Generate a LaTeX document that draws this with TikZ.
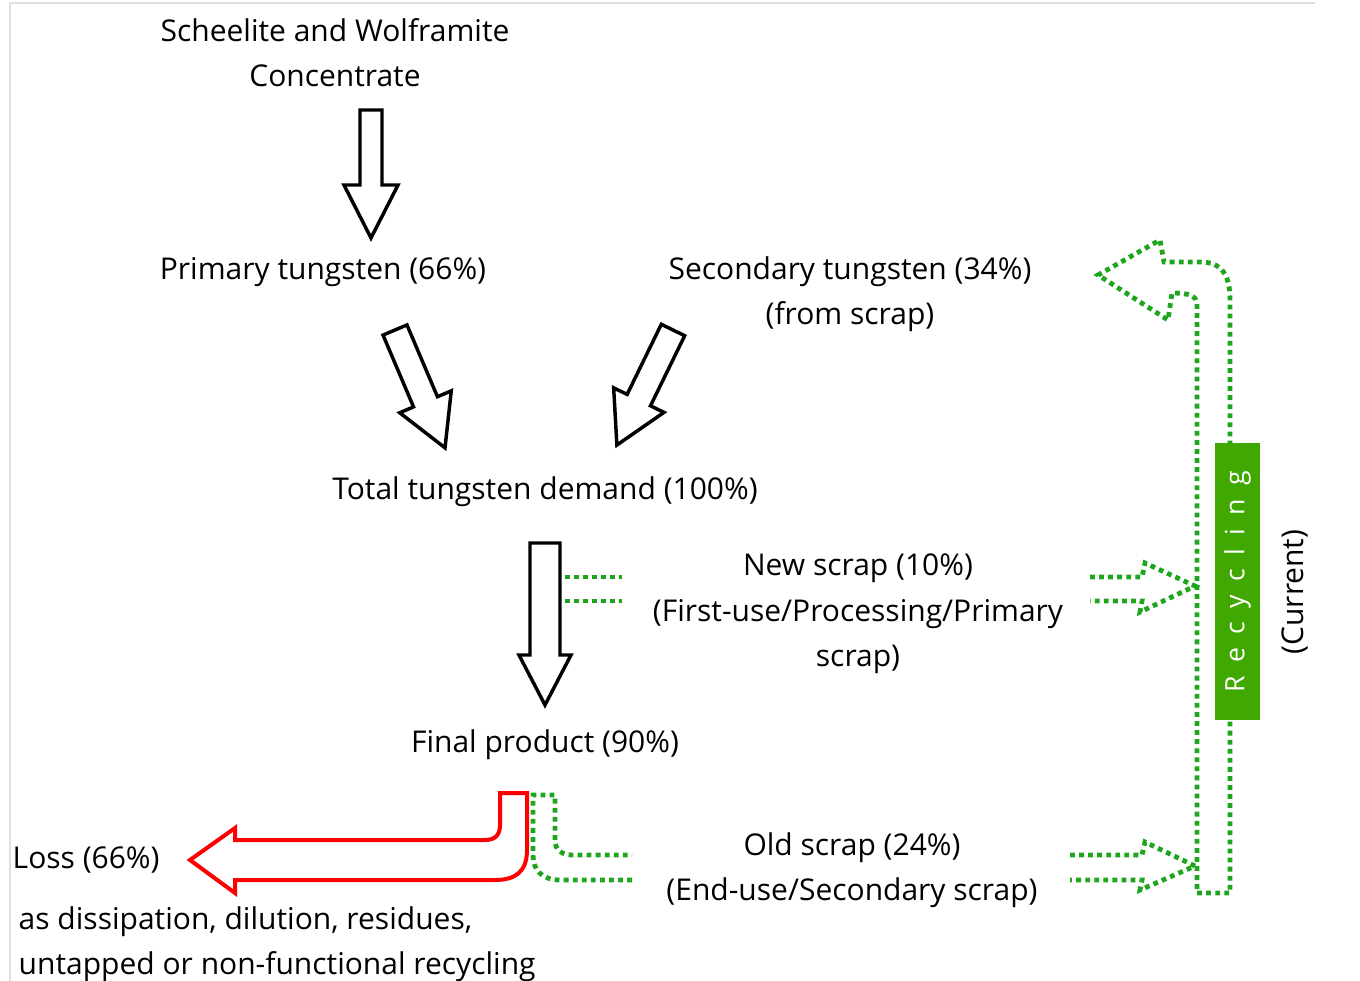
\documentclass[tikz,border=0pt]{standalone}
\usepackage{fontspec}
\setmainfont{Open Sans}
\definecolor{dotgreen}{RGB}{30,165,30}
\definecolor{boxgreen}{RGB}{64,168,0}
\newcommand\blockarrow[8]{% x, y, angle, length, shaft, head, headlen, style
  \begin{scope}[shift={(#1,#2)}, rotate=#3]
    \draw[#8] (0,-#5) -- (#4-#7,-#5) -- (#4-#7,-#6) -- (#4,0) -- (#4-#7,#6) -- (#4-#7,#5) -- (0,#5) -- cycle;
  \end{scope}}
\begin{document}
\begin{tikzpicture}[x=0.75pt, y=-0.75pt,
  txt/.style={align=center, font=\fontsize{22.5}{34}\selectfont},
  blk/.style={line width=2.6pt, black, line join=miter},
  dots/.style={dotgreen, line width=3.6pt, dash pattern=on 3.6pt off 3.2pt}]
\useasboundingbox (0,0) rectangle (1360,981);
\draw[gray!25, line width=0.8pt] (10,981) -- (10,3) -- (1315,3);
% texts
\node[txt] (conc) at (335,53) {Scheelite and Wolframite\\Concentrate};
\node[txt] (prim) at (323,272) {Primary tungsten (66\%)};
\node[txt] (sec) at (850,294) {Secondary tungsten (34\%)\\(from scrap)};
\node[txt] (tot) at (545,492) {Total tungsten demand (100\%)};
\node[txt] (new) at (858,614) {New scrap (10\%)\\(First-use/Processing/Primary\\scrap)};
\node[txt] (fin) at (545,745) {Final product (90\%)};
\node[txt, anchor=west] (loss) at (8,860) {Loss (66\%)};
\node[txt, anchor=north west, align=left] (lossx) at (14,902) {as dissipation, dilution, residues,\\untapped or non-functional recycling};
\node[txt] (old) at (852,870) {Old scrap (24\%)\\(End-use/Secondary scrap)};
% black block arrows
\blockarrow{371}{110}{-90}{128}{11}{27}{53}{blk}
\blockarrow{395}{330}{-67}{128}{13}{28}{50}{blk}
\blockarrow{673}{330}{-116}{128}{13}{28}{50}{blk}
\blockarrow{545}{543}{-90}{162}{15}{26}{50}{blk}
% loss arrow
\draw[red, line width=3pt, line join=miter]
  (527,793) -- (527,850) .. controls (527,872) and (515,880) .. (495,880)
  -- (235,880) -- (235,893) -- (190,860) -- (235,828) -- (235,840) -- (485,840)
  .. controls (495,840) and (500,835) .. (500,825) -- (500,793) -- cycle;
% new scrap
\draw[dots] (565,577) -- (622,577) (565,601) -- (622,601);
\draw[dots] (1090,577) -- (1142,577) -- (1145,563) -- (1195,586) -- (1140,612) -- (1142,601) -- (1090,601);
% old scrap
\draw[dots] (632,880) -- (560,880) .. controls (542,880) and (533,870) .. (533,855) -- (533,795) -- (555,795) -- (555,840) .. controls (555,850) and (562,855) .. (572,855) -- (632,855);
\draw[dots] (1070,855) -- (1142,855) -- (1145,842) -- (1195,866) -- (1140,890) -- (1142,880) -- (1070,880);
% recycling loop
\draw[dots] (1197,880) -- (1197,305) .. controls (1197,296) and (1190,293) .. (1172,293)
  -- (1168,320) -- (1098,275) -- (1160,240) -- (1164,262) -- (1200,262)
  .. controls (1222,262) and (1230,275) .. (1230,300) -- (1230,893) -- (1197,893) -- cycle;
\node[fill=boxgreen, minimum width=45*0.75pt, minimum height=277*0.75pt, inner sep=0pt] (rec) at (1237.5,581.5) {};
\node[rotate=90, text=white, font=\fontsize{20}{26}\selectfont] (rect) at (rec.center) {R\,\,\,e\,\,\,c\,\,\,y\,\,\,c\,\,\,l\,\,\,i\,\,\,n\,\,\,g};
\node[txt, rotate=90] (cur) at (1295,592) {(Current)};
\end{tikzpicture}
\end{document}
